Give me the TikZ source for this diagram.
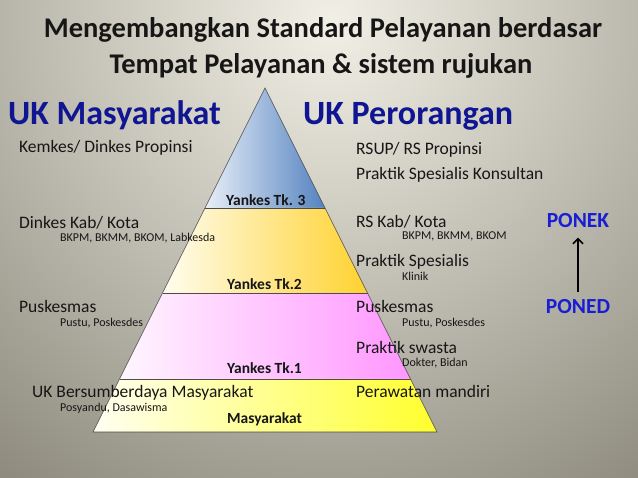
\documentclass[tikz,border=0pt]{standalone}
\usepackage{fontspec}
\setmainfont{Carlito}
\usetikzlibrary{arrows.meta}
\definecolor{bglight}{RGB}{242,240,230}
\definecolor{bgdark}{RGB}{128,125,112}
\definecolor{ukblue}{RGB}{16,22,145}
\definecolor{ponblue}{RGB}{24,30,210}
\definecolor{txtdark}{RGB}{22,22,22}
\definecolor{tkblue}{RGB}{84,130,192}
\definecolor{tkblueL}{RGB}{232,239,248}
\definecolor{tkgold}{RGB}{255,210,46}
\definecolor{tkgoldL}{RGB}{255,253,240}
\definecolor{tkpink}{RGB}{255,150,255}
\definecolor{tkpinkL}{RGB}{255,246,255}
\definecolor{tkyellow}{RGB}{255,255,45}
\definecolor{tkyellowL}{RGB}{255,255,242}

\begin{document}
\begin{tikzpicture}[x=1pt, y=-1pt,
  title/.style={anchor=base, text=txtdark, font=\fontsize{28.5}{32}\selectfont\bfseries},
  side/.style={anchor=base west, text=ukblue, font=\fontsize{34}{37}\selectfont\bfseries},
  item/.style={anchor=base west, text=txtdark, inner sep=0pt, font=\fontsize{17.5}{20}\selectfont},
  sub/.style={anchor=base west, text=txtdark, inner sep=0pt, font=\fontsize{12}{14}\selectfont},
  level/.style={anchor=base west, text=txtdark, inner sep=0pt, font=\fontsize{15.5}{18}\selectfont\bfseries},
  pon/.style={anchor=base, text=ponblue, font=\fontsize{21.5}{24}\selectfont\bfseries},
  layer/.style={draw=black!70, line width=0.6pt}]
% Background
\useasboundingbox (0,0) rectangle (638,478);
\begin{scope}
\clip (0,0) rectangle (638,478);
\fill[bgdark] (0,0) rectangle (638,478);
\shade[inner color=bglight, outer color=bgdark] (330,20) circle (640);
\end{scope}

% Title
\node[title] (title1) at (323,38) {Mengembangkan Standard Pelayanan berdasar};
\node[title] (title2) at (321,74) {Tempat Pelayanan \& sistem rujukan};

% Pyramid layers
\shade[left color=tkblueL, right color=tkblue] (265,88) -- (325,208) -- (205,208) -- cycle;
\shade[left color=tkgoldL, right color=tkgold] (205,208) -- (325,208) -- (367.5,293) -- (162.5,293) -- cycle;
\shade[left color=tkpinkL, right color=tkpink] (162.5,293) -- (367.5,293) -- (410.5,379) -- (119.5,379) -- cycle;
\shade[left color=tkyellowL, right color=tkyellow] (119.5,379) -- (410.5,379) -- (437,432) -- (93,432) -- cycle;
\draw[layer] (265,88) -- (437,432) -- (93,432) -- cycle;
\draw[layer] (205,208) -- (325,208);
\draw[layer] (162.5,293) -- (367.5,293);
\draw[layer] (119.5,379) -- (410.5,379);

% Level labels
\node[level] (tk3) at (226,206) {Yankes Tk. 3};
\node[level] (tk2) at (227,290) {Yankes Tk.2};
\node[level] (tk1) at (227,374) {Yankes Tk.1};
\node[level] (mas) at (227,424) {Masyarakat};

% Headings
\node[side, inner sep=0pt] (ukm) at (8,125) {UK Masyarakat};
\node[side, inner sep=0pt] (ukp) at (303,125) {UK Perorangan};

% Left column
\node[item] (kemkes) at (19,153) {Kemkes/ Dinkes Propinsi};
\node[item] (dinkes) at (19,229) {Dinkes Kab/ Kota};
\node[sub] (bkpmL) at (60,242) {BKPM, BKMM, BKOM, Labkesda};
\node[item] (puskL) at (19,313) {Puskesmas};
\node[sub] (pustuL) at (60,327) {Pustu, Poskesdes};
\node[item] (ukbm) at (32,398) {UK Bersumberdaya Masyarakat};
\node[sub] (posy) at (60,412) {Posyandu, Dasawisma};

% Right column
\node[item] (rsup) at (356,155) {RSUP/ RS Propinsi};
\node[item] (konsul) at (356,180) {Praktik Spesialis Konsultan};
\node[item] (rskab) at (356,228) {RS Kab/ Kota};
\node[sub] (bkpmR) at (402,240) {BKPM, BKMM, BKOM};
\node[item] (spes) at (356,267) {Praktik Spesialis};
\node[sub] (klinik) at (402,281) {Klinik};
\node[item] (puskR) at (356,313) {Puskesmas};
\node[sub] (pustuR) at (402,327) {Pustu, Poskesdes};
\node[item] (swasta) at (356,354) {Praktik swasta};
\node[sub] (dokter) at (402,367) {Dokter, Bidan};
\node[item] (mandiri) at (356,398) {Perawatan mandiri};

% Referral
\node[pon] (ponek) at (578,228) {PONEK};
\node[pon] (poned) at (578,314) {PONED};
\draw[-{Straight Barb[length=5pt, width=10pt]}, line width=1.6pt, shorten <=4pt, shorten >=6pt] (poned) -- (ponek);
\end{tikzpicture}
\end{document}
